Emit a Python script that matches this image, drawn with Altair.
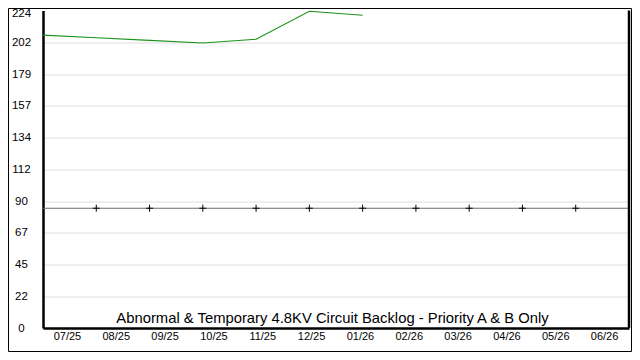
import altair as alt
import pandas as pd

# ---- data ----
months = ["07/25", "08/25", "09/25", "10/25", "11/25", "12/25",
          "01/26", "02/26", "03/26", "04/26", "05/26", "06/26"]
point_idx = [0, 1, 2, 3, 4, 5, 6, 7, 8, 9, 10, 11]
backlog_idx = [0, 1, 2, 3, 4, 5, 6]
backlog = [206.6, 204.8, 202.9, 201.1, 203.7, 223.5, 220.7]
target = [84.5, 84.5, 84.5, 84.5, 84.5, 84.5, 84.5, 84.5, 84.5, 84.5, 84.5, 84.5]
marker_idx = [1, 2, 3, 4, 5, 6, 7, 8, 9, 10]
marker_val = [84.5, 84.5, 84.5, 84.5, 84.5, 84.5, 84.5, 84.5, 84.5, 84.5]
y_ticks = [0, 22.4, 44.8, 67.2, 89.6, 112, 134.4, 156.8, 179.2, 201.6, 224]
chart_title = "Abnormal & Temporary 4.8KV Circuit Backlog - Priority A & B Only"

W, H = 586, 317.5
FONT = "Liberation Sans"

df_backlog = pd.DataFrame({"idx": backlog_idx, "value": backlog})
df_target = pd.DataFrame({"idx": point_idx, "value": target})
df_markers = pd.DataFrame({"idx": marker_idx, "value": marker_val})
df_months = pd.DataFrame({"month": months})
df_title = pd.DataFrame({"t": [chart_title]})

xscale = alt.Scale(domain=[0, 11], nice=False, zero=False)
yscale = alt.Scale(domain=[0, 224], nice=False, zero=False)

yaxis = alt.Axis(
    values=y_ticks, format=".0f", title=None, grid=True,
    gridColor="#dedede", gridWidth=1,
    gridOpacity=alt.condition("datum.value >= 224", alt.value(0), alt.value(1)),
    labelOffset=alt.condition("datum.value >= 224", alt.value(2.5), alt.value(0)),
    ticks=False, tickSize=0, labelAlign="center", labelPadding=22,
    labelOverlap=False, labelBound=False, labelFlush=False,
    labelFontSize=11.5, labelColor="#000000", labelFont=FONT,
    domainColor="#000000", domainWidth=2.5,
)

month_axis = alt.Chart(df_months).mark_point(opacity=0).encode(
    x=alt.X("month:N", sort=months,
            scale=alt.Scale(type="band", paddingInner=0, paddingOuter=0),
            axis=alt.Axis(title=None, labelAngle=0, ticks=False, tickSize=0,
                          labelPadding=2, labelFontSize=11, labelColor="#000000",
                          labelFont=FONT, domainColor="#000000", domainWidth=2.5,
                          labelOverlap=False, grid=False)),
)

backlog_line = alt.Chart(df_backlog).mark_line(color="#189418", strokeWidth=1.1).encode(
    x=alt.X("idx:Q", scale=xscale, axis=None),
    y=alt.Y("value:Q", scale=yscale, axis=yaxis),
)

target_line = alt.Chart(df_target).mark_line(color="#6e6e6e", strokeWidth=1.2).encode(
    x=alt.X("idx:Q", scale=xscale, axis=None),
    y=alt.Y("value:Q", scale=yscale, axis=yaxis),
)

markers = alt.Chart(df_markers).mark_point(
    shape="M-1,0L1,0M0,-1L0,1", size=49, filled=False,
    stroke="#000000", strokeWidth=1, opacity=1,
).encode(
    x=alt.X("idx:Q", scale=xscale, axis=None),
    y=alt.Y("value:Q", scale=yscale, axis=yaxis),
)

right_frame = alt.Chart(df_title).mark_rule(color="#000000", strokeWidth=2.5).encode(
    x=alt.value(W), y=alt.value(0), y2=alt.value(H)
)

outer_border = alt.Chart(df_title).mark_rect(
    fillOpacity=0, stroke="#000000", strokeWidth=1
).encode(
    x=alt.value(-34.5), x2=alt.value(W + 2.5),
    y=alt.value(-2), y2=alt.value(H + 23.5),
)

title_text = alt.Chart(df_title).mark_text(
    font=FONT, fontSize=14.8, color="#000000", align="center", baseline="alphabetic"
).encode(
    text="t:N", x=alt.value(289.5), y=alt.value(312.2)
)

chart = alt.layer(
    backlog_line, month_axis, target_line, markers, right_frame, title_text, outer_border
).resolve_scale(x="independent").properties(
    width=W, height=H,
    padding={"left": 35, "top": 2.5, "right": 3, "bottom": 24},
    autosize="none",
).configure_view(stroke=None).configure_axisY(
    labelOverlap=False, labelFontSize=11.5, labelFont=FONT
)

chart.save("out.html", embed_options={"renderer": "svg", "actions": False})
